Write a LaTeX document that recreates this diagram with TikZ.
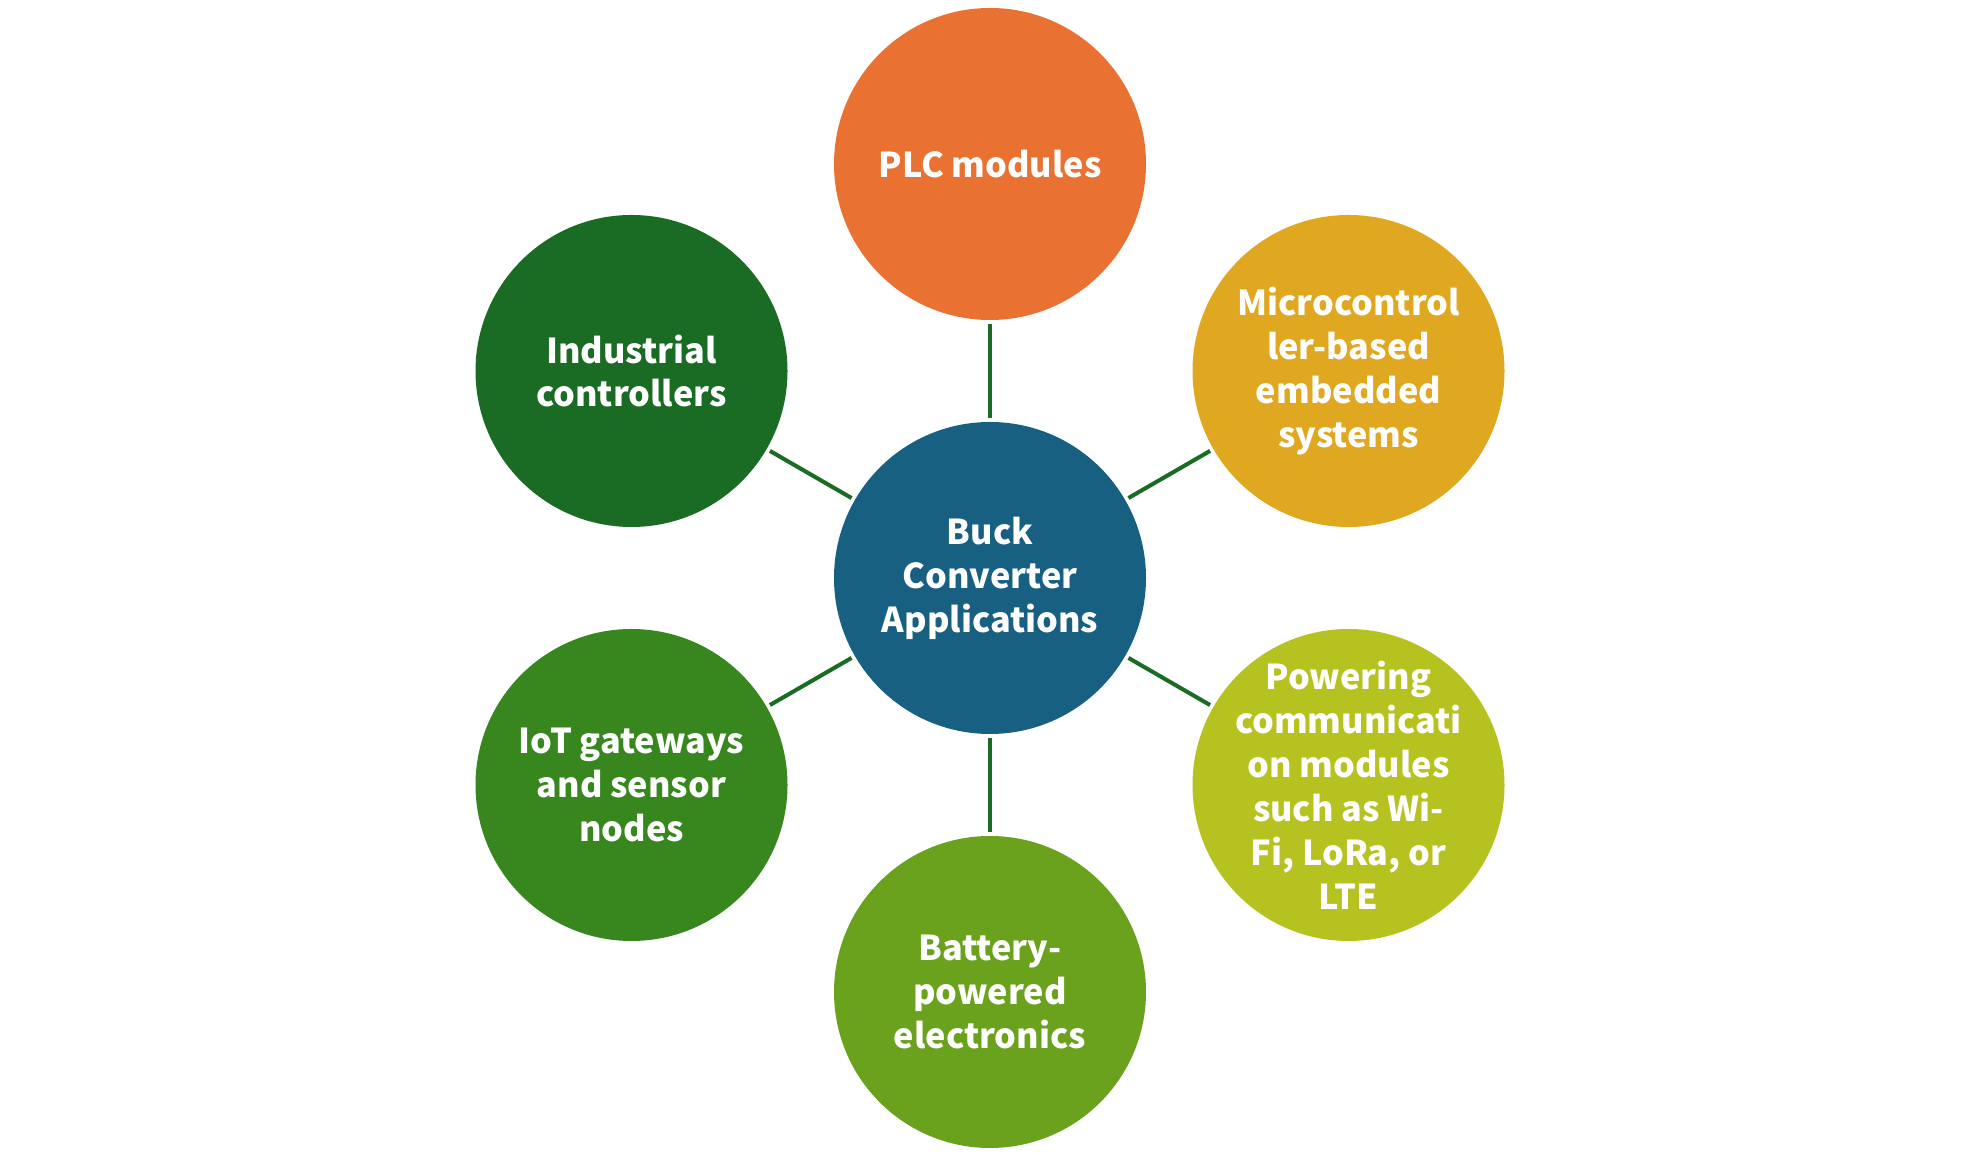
\documentclass[tikz,border=0pt]{standalone}
\usepackage{fontspec}
\setmainfont{Noto Sans CJK SC}
\definecolor{hubblue}{HTML}{176082}
\definecolor{plcorange}{HTML}{E97132}
\definecolor{mcugold}{HTML}{E0A820}
\definecolor{commlime}{HTML}{B6C21F}
\definecolor{battgreen}{HTML}{6AA21E}
\definecolor{iotgreen}{HTML}{37861E}
\definecolor{indgreen}{HTML}{1A6B24}
\definecolor{linkgreen}{HTML}{1A6B24}
\tikzset{
	bubble/.style={circle, minimum size=6.24cm, inner sep=-0.6cm, text=white, align=center,
		font=\fontsize{19.5}{25}\selectfont\bfseries},
	link/.style={draw=linkgreen, line width=2.3pt, shorten >=0.07cm, shorten <=0.07cm}
}
\begin{document}
\begin{tikzpicture}
	\useasboundingbox (0, 0) rectangle (39.6, 23.1);
	\node[bubble, fill=hubblue] (hub) at (19.8, 11.54) {Buck\\Converter\\Applications};
	\node[bubble, fill=plcorange] (plc) at (19.8, 19.82) {PLC modules};
	\node[bubble, fill=mcugold] (mcu) at (26.97, 15.68) {Microcontrol\\ler-based\\embedded\\systems};
	\node[bubble, fill=commlime] (comm) at (26.97, 7.40) {Powering\\communicati\\on modules\\such as Wi-\\Fi, LoRa, or\\LTE};
	\node[bubble, fill=battgreen] (batt) at (19.8, 3.26) {Battery-\\powered\\electronics};
	\node[bubble, fill=iotgreen] (iot) at (12.63, 7.40) {IoT gateways\\and sensor\\nodes};
	\node[bubble, fill=indgreen] (ind) at (12.63, 15.68) {Industrial\\controllers};

	\foreach \leaf in {plc, mcu, comm, batt, iot, ind}
		\draw[link] (hub) -- (\leaf);
\end{tikzpicture}
\end{document}
